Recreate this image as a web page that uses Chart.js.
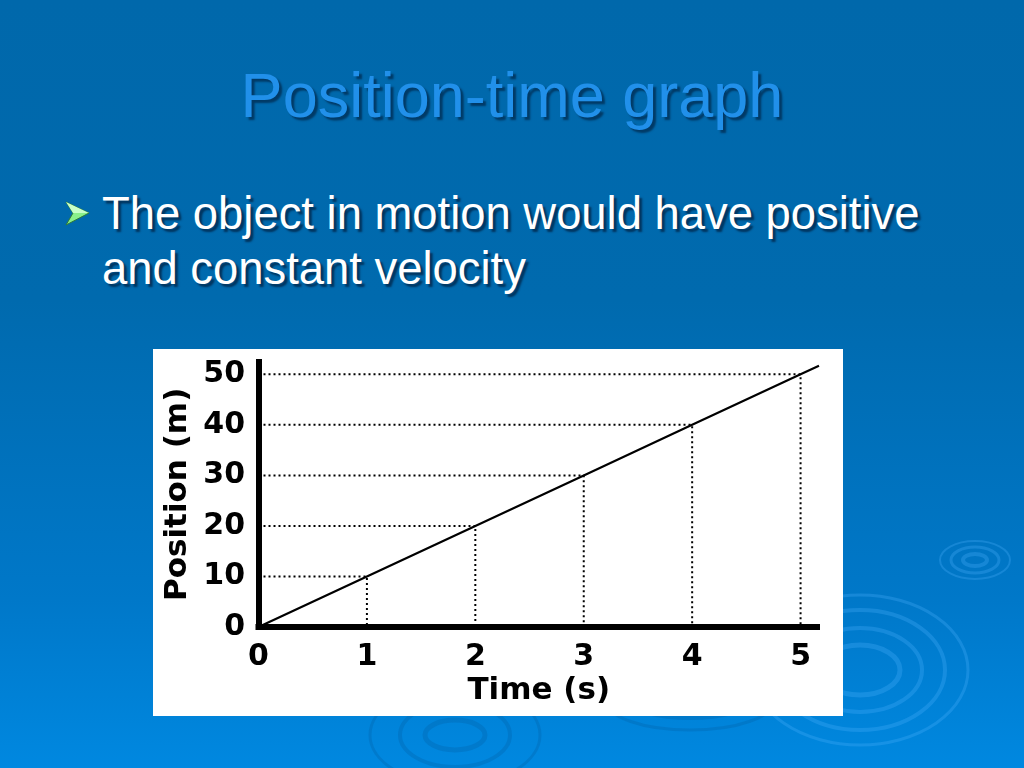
<!DOCTYPE html>
<html>
<head>
<meta charset="utf-8">
<script src="https://cdn.jsdelivr.net/npm/chart.js@4/dist/chart.umd.min.js"></script>
<style>
  html, body { margin:0; padding:0; }
  body { width:1024px; height:768px; overflow:hidden; position:relative;
    background: linear-gradient(to bottom, #0068ab 0px, #006aae 300px, #0078c9 600px, #0088e0 768px);
    font-family: "Liberation Sans", Arial, sans-serif; }
  #deco { position:absolute; left:0; top:0; }
  #title { position:absolute; left:0; width:1024px; top:59px; text-align:center;
    font-size:63px; color:#2190ea; text-shadow: 3px 3px 2px #003a66; }
  .bullet { position:absolute; left:102px; color:#ffffff; font-size:45.4px; line-height:55px;
    text-shadow: 3px 3px 2px #00345e; }
  #box { position:absolute; left:153px; top:349px; width:690px; height:367px; background:#ffffff; }
  canvas { display:block; }
</style>
</head>
<body>
<svg id="deco" width="1024" height="768">
  <g fill="none" stroke="#4fb3ff" stroke-opacity="0.28">
    <ellipse cx="975" cy="560" rx="12" ry="6" stroke-width="4"/>
    <ellipse cx="975" cy="560" rx="24" ry="13" stroke-width="3"/>
    <ellipse cx="975" cy="560" rx="35" ry="19" stroke-width="2"/>
    <ellipse cx="860" cy="670" rx="40" ry="25" stroke-width="5"/>
    <ellipse cx="860" cy="670" rx="62" ry="42" stroke-width="4"/>
    <ellipse cx="860" cy="670" rx="85" ry="60" stroke-width="4"/>
    <ellipse cx="860" cy="670" rx="108" ry="75" stroke-width="3"/>
  </g>
  <g fill="none" stroke="#005fa6" stroke-opacity="0.3">
    <ellipse cx="455" cy="735" rx="30" ry="15" stroke-width="5"/>
    <ellipse cx="455" cy="735" rx="55" ry="32" stroke-width="4"/>
    <ellipse cx="455" cy="735" rx="85" ry="50" stroke-width="3"/>
    <ellipse cx="690" cy="700" rx="60" ry="18" stroke-width="4"/>
    <ellipse cx="690" cy="700" rx="85" ry="30" stroke-width="3"/>
  </g>
  <polygon points="66,202 89,213 66,225 73,213" fill="#8af08a" stroke="#2e7a3a" stroke-width="1"/>
  <polygon points="66,202 89,213 73,213" fill="#c8ffc8"/>
</svg>
<div id="title">Position-time graph</div>
<div class="bullet" style="top:186px;">The object in motion would have positive<br>and constant velocity</div>
<div id="box"><canvas id="c" width="690" height="367"></canvas></div>
<script>
// ---- data ----
const lineTimes = [0, 1, 2, 3, 4, 5, 5.17];
const linePositions = [0, 10, 20, 30, 40, 50, 51.7];
const markTimes = [1, 2, 3, 4, 5];
const markPositions = [10, 20, 30, 40, 50];
const xTicks = [0, 1, 2, 3, 4, 5];
const yTicks = [0, 10, 20, 30, 40, 50];
const xMax = 5.17;
const yMax = 52.5;
const xTitle = "Time (s)";
const yTitle = "Position (m)";

const datasets = [{
  data: lineTimes.map((t, i) => ({x: t, y: linePositions[i]})),
  borderColor: '#000', borderWidth: 2.2, pointRadius: 0, order: 0, clip: false
}];
markTimes.forEach((t, i) => {
  datasets.push({
    data: [{x: 0, y: markPositions[i]}, {x: t, y: markPositions[i]}, {x: t, y: 0}],
    borderColor: '#000', borderWidth: 2, borderDash: [2, 3], pointRadius: 0, order: 1
  });
});

const tickFont = {family: "'DejaVu Sans'", size: 30, weight: 'bold'};
const titleFont = {family: "'DejaVu Sans'", size: 31, weight: 'bold'};

new Chart(document.getElementById('c'), {
  type: 'line',
  data: {datasets},
  options: {
    responsive: false, animation: false, events: [],
    layout: {padding: {top: 12.7, right: 24, left: 0, bottom: 0}},
    plugins: {legend: {display: false}, tooltip: {enabled: false}},
    scales: {
      x: {
        type: 'linear', min: 0, max: xMax,
        afterBuildTicks: s => { s.ticks = xTicks.map(v => ({value: v})); },
        afterFit: s => { s.height = 89; s.paddingLeft = 0; s.paddingRight = 0; },
        grid: {display: false, drawTicks: false},
        border: {display: true, color: '#000', width: 6},
        ticks: {color: '#000', font: tickFont, padding: 12, maxRotation: 0,
                callback: v => String(v)},
        title: {display: true, text: xTitle, color: '#000', font: titleFont,
                padding: {top: 0, bottom: 6}}
      },
      y: {
        type: 'linear', min: 0, max: yMax,
        afterBuildTicks: s => { s.ticks = yTicks.map(v => ({value: v})); },
        afterFit: s => { s.width = 105.5; s.paddingTop = 0; s.paddingBottom = 0; },
        grid: {display: false, drawTicks: false},
        border: {display: true, color: '#000', width: 6},
        ticks: {color: '#000', font: tickFont, padding: 13.5,
                callback: v => String(v)},
        title: {display: true, text: yTitle, color: '#000', font: titleFont,
                padding: {top: 6, bottom: 0}}
      }
    }
  },
  plugins: [{
    id: 'corner',
    afterDraw(chart) {
      const a = chart.chartArea, ctx = chart.ctx;
      ctx.save(); ctx.fillStyle = '#000';
      ctx.fillRect(a.left - 3, a.bottom - 3, 6, 6);
      ctx.restore();
    }
  }]
});
</script>
</body>
</html>
